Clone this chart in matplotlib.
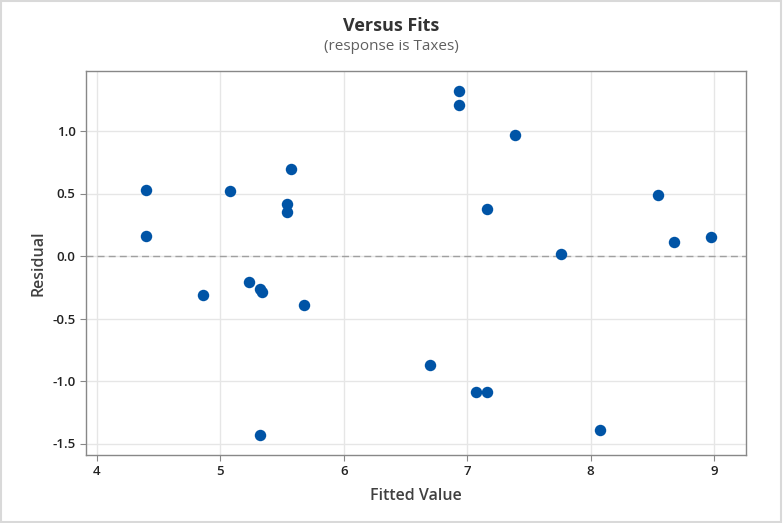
import matplotlib
matplotlib.use("Agg")
import matplotlib.pyplot as plt
from matplotlib.patches import Rectangle

fitted = [4.40, 4.40, 4.86, 5.08, 5.23, 5.32, 5.34, 5.32, 5.54, 5.54, 5.57, 5.68,
          6.70, 6.93, 6.93, 7.07, 7.16, 7.16, 7.39, 7.76, 8.08, 8.55, 8.68, 8.98]
resid = [0.53, 0.16, -0.31, 0.52, -0.21, -0.26, -0.29, -1.43, 0.42, 0.35, 0.70, -0.39,
         -0.87, 1.32, 1.21, -1.09, -1.09, 0.38, 0.97, 0.02, -1.39, 0.49, 0.11, 0.15]
xticks = [4, 5, 6, 7, 8, 9]
yticks = [-1.5, -1.0, -0.5, 0.0, 0.5, 1.0]

plt.rcParams['font.family'] = ['Open Sans', 'DejaVu Sans']

fig = plt.figure(figsize=(7.83, 5.23), dpi=100)
ax = fig.add_axes([86/783, 1 - 455/523, (746 - 86)/783, (455 - 71)/523])

ax.set_xlim(3.911, 9.26)
ax.set_ylim(-1.592, 1.48)
ax.set_xticks(xticks)
ax.set_yticks(yticks)
ax.set_yticklabels([f"{v:.1f}" for v in yticks])
ax.grid(True, color='#e6e6e6', linewidth=1.0)
ax.set_axisbelow(True)
ax.axhline(0, color='#a0a0a0', linestyle=(0, (5, 3)), linewidth=1.0, zorder=1)
ax.scatter(fitted, resid, s=68, color='#0054a6', zorder=3, linewidths=0)

for s in ax.spines.values():
    s.set_color('#888888')
    s.set_linewidth(1.0)
ax.tick_params(axis='both', colors='#888888', labelcolor='#222222', labelsize=9.5,
               length=4, width=0.8)
for lab in ax.get_xticklabels() + ax.get_yticklabels():
    lab.set_fontweight('semibold')

ax.set_xlabel('Fitted Value', fontsize=11.5, color='#404040', fontweight='semibold', labelpad=7)
ax.set_ylabel('Residual', fontsize=11.5, color='#404040', fontweight='semibold', labelpad=4)

fig.text(0.5, 1 - 26/523, 'Versus Fits', ha='center', va='center', fontsize=13,
         fontweight='bold', color='#333333')
fig.text(0.5, 1 - 47/523, '(response is Taxes)', ha='center', va='center', fontsize=11,
         color='#606060')

fig.patches.append(Rectangle((0.001, 0.001), 0.997, 0.997, transform=fig.transFigure,
                             fill=False, edgecolor='#d9d9d9', linewidth=1.5))

fig.savefig('out.png', dpi=100)
